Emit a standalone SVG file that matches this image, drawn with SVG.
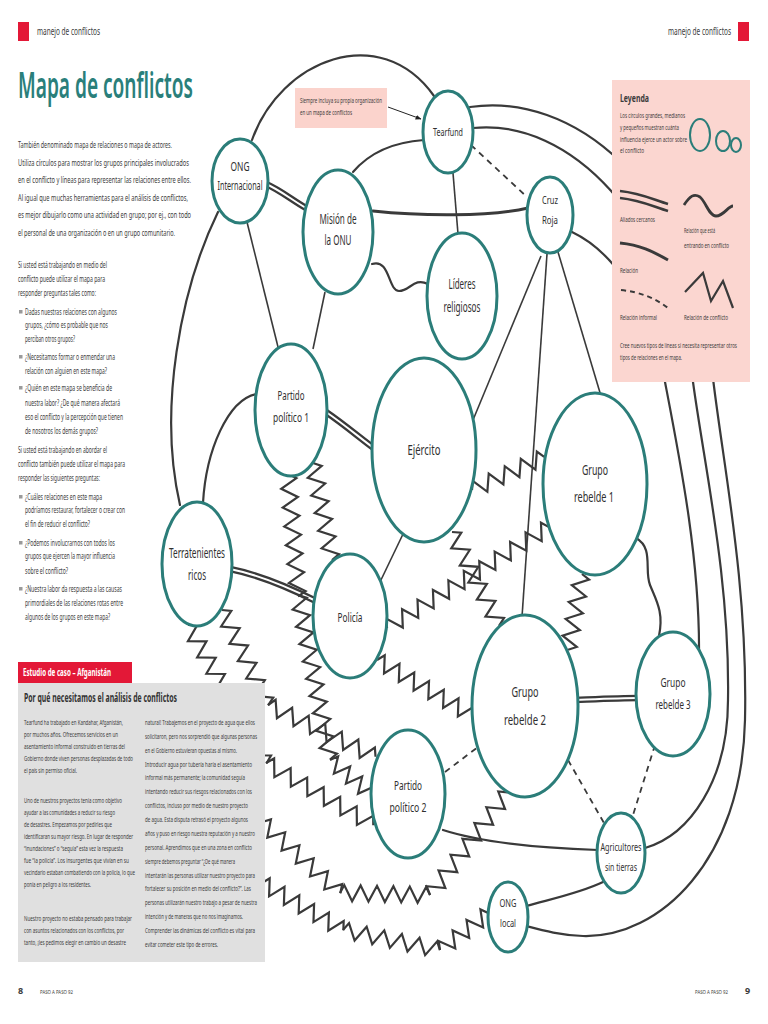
<svg xmlns="http://www.w3.org/2000/svg" width="768" height="1024" viewBox="0 0 768 1024">
<style>
text{font-family:"Noto Sans",Lato,"Liberation Sans",sans-serif;font-stretch:condensed;fill:#3b3b3b}
.nd{fill:#fff;stroke:#2b7d79;stroke-width:3}
.lb{text-anchor:middle;fill:#2f2f2f}
.ln{fill:none;stroke:#3a3a3a;stroke-width:2.2;stroke-linecap:round}
.th{fill:none;stroke:#3a3a3a;stroke-width:1.6}
.dsh{fill:none;stroke:#3a3a3a;stroke-width:1.8;stroke-dasharray:6 5}
.db{fill:none;stroke:#3a3a3a;stroke-width:6.5}
.dw{fill:none;stroke:#fff;stroke-width:2}
.bt{font-size:8.3px}
.it{font-size:9.2px}
.cs{font-size:7.6px}
.lg{font-size:7px}
.bl{fill:#9a9a9a}
</style>
<defs>
<marker id="ah" viewBox="0 0 10 10" refX="9" refY="5" markerWidth="6" markerHeight="6" orient="auto"><path d="M0,1 L10,5 L0,9z" fill="#222"/></marker>
<path id="z3" fill="none" stroke="#3a3a3a" stroke-width="2.2" vector-effect="non-scaling-stroke" d="M0,0 l4.5,-8 l9,16 l9,-16 l9,16 l9,-16 l9,16 l9,-16 l4.5,8"/>
<path id="z4" fill="none" stroke="#3a3a3a" stroke-width="2.2" vector-effect="non-scaling-stroke" d="M0,0 l4.5,-8 l9,16 l9,-16 l9,16 l9,-16 l9,16 l9,-16 l9,16 l9,-16 l4.5,8"/>
<path id="z5" fill="none" stroke="#3a3a3a" stroke-width="2.2" vector-effect="non-scaling-stroke" d="M0,0 l4.5,-8 l9,16 l9,-16 l9,16 l9,-16 l9,16 l9,-16 l9,16 l9,-16 l9,16 l9,-16 l4.5,8"/>
<path id="z6" fill="none" stroke="#3a3a3a" stroke-width="2.2" vector-effect="non-scaling-stroke" d="M0,0 l4.5,-8 l9,16 l9,-16 l9,16 l9,-16 l9,16 l9,-16 l9,16 l9,-16 l9,16 l9,-16 l9,16 l9,-16 l4.5,8"/>
<path id="z8" fill="none" stroke="#3a3a3a" stroke-width="2.2" vector-effect="non-scaling-stroke" d="M0,0 l4.5,-8 l9,16 l9,-16 l9,16 l9,-16 l9,16 l9,-16 l9,16 l9,-16 l9,16 l9,-16 l9,16 l9,-16 l9,16 l9,-16 l9,16 l9,-16 l4.5,8"/>
<path id="z9" fill="none" stroke="#3a3a3a" stroke-width="2.2" vector-effect="non-scaling-stroke" d="M0,0 l4.5,-8 l9,16 l9,-16 l9,16 l9,-16 l9,16 l9,-16 l9,16 l9,-16 l9,16 l9,-16 l9,16 l9,-16 l9,16 l9,-16 l9,16 l9,-16 l9,16 l9,-16 l4.5,8"/>
<path id="z10" fill="none" stroke="#3a3a3a" stroke-width="2.2" vector-effect="non-scaling-stroke" d="M0,0 l4.5,-8 l9,16 l9,-16 l9,16 l9,-16 l9,16 l9,-16 l9,16 l9,-16 l9,16 l9,-16 l9,16 l9,-16 l9,16 l9,-16 l9,16 l9,-16 l9,16 l9,-16 l9,16 l9,-16 l4.5,8"/>
</defs>
<rect width="768" height="1024" fill="#fff"/>

<!-- header -->
<rect x="18" y="22" width="11" height="19" fill="#e31837"/>
<text x="37" y="35" font-size="10" textLength="63" lengthAdjust="spacingAndGlyphs">manejo de conflictos</text>
<rect x="738" y="22" width="11" height="19" fill="#e31837"/>
<text x="668" y="35" font-size="10" textLength="63" lengthAdjust="spacingAndGlyphs">manejo de conflictos</text>

<text x="18" y="98" font-size="36" font-weight="600" textLength="175" lengthAdjust="spacingAndGlyphs" style="fill:#2a7f7b">Mapa de conflictos</text>

<g class="it">
<text x="18" y="148" textLength="154" lengthAdjust="spacingAndGlyphs">También denominado mapa de relaciones o mapa de actores.</text>
<text x="18" y="166" textLength="171" lengthAdjust="spacingAndGlyphs">Utiliza círculos para mostrar los grupos principales involucrados</text>
<text x="18" y="183" textLength="173" lengthAdjust="spacingAndGlyphs">en el conflicto y líneas para representar las relaciones entre ellos.</text>
<text x="18" y="201" textLength="170" lengthAdjust="spacingAndGlyphs">Al igual que muchas herramientas para el análisis de conflictos,</text>
<text x="18" y="218" textLength="173" lengthAdjust="spacingAndGlyphs">es mejor dibujarlo como una actividad en grupo; por ej., con todo</text>
<text x="18" y="236" textLength="157" lengthAdjust="spacingAndGlyphs">el personal de una organización o en un grupo comunitario.</text>
</g>

<g class="bt">
<text x="18" y="268" textLength="89" lengthAdjust="spacingAndGlyphs">Si usted está trabajando en medio del</text>
<text x="18" y="282" textLength="87" lengthAdjust="spacingAndGlyphs">conflicto puede utilizar el mapa para</text>
<text x="18" y="296" textLength="78" lengthAdjust="spacingAndGlyphs">responder preguntas tales como:</text>
<text x="25" y="315" textLength="92" lengthAdjust="spacingAndGlyphs">Dadas nuestras relaciones con algunos</text>
<text x="25" y="328" textLength="83" lengthAdjust="spacingAndGlyphs">grupos, ¿cómo es probable que nos</text>
<text x="25" y="342" textLength="50" lengthAdjust="spacingAndGlyphs">perciban otros grupos?</text>
<text x="25" y="360" textLength="90" lengthAdjust="spacingAndGlyphs">¿Necesitamos formar o enmendar una</text>
<text x="25" y="374" textLength="82" lengthAdjust="spacingAndGlyphs">relación con alguien en este mapa?</text>
<text x="25" y="391" textLength="87" lengthAdjust="spacingAndGlyphs">¿Quién en este mapa se beneficia de</text>
<text x="25" y="406" textLength="95" lengthAdjust="spacingAndGlyphs">nuestra labor? ¿De qué manera afectará</text>
<text x="25" y="420" textLength="98" lengthAdjust="spacingAndGlyphs">eso el conflicto y la percepción que tienen</text>
<text x="25" y="434" textLength="73" lengthAdjust="spacingAndGlyphs">de nosotros los demás grupos?</text>
<text x="18" y="453" textLength="89" lengthAdjust="spacingAndGlyphs">Si usted está trabajando en abordar el</text>
<text x="18" y="467" textLength="107" lengthAdjust="spacingAndGlyphs">conflicto también puede utilizar el mapa para</text>
<text x="18" y="481" textLength="82" lengthAdjust="spacingAndGlyphs">responder las siguientes preguntas:</text>
<text x="25" y="500" textLength="77" lengthAdjust="spacingAndGlyphs">¿Cuáles relaciones en este mapa</text>
<text x="25" y="513" textLength="100" lengthAdjust="spacingAndGlyphs">podríamos restaurar, fortalecer o crear con</text>
<text x="25" y="527" textLength="65" lengthAdjust="spacingAndGlyphs">el fin de reducir el conflicto?</text>
<text x="25" y="546" textLength="90" lengthAdjust="spacingAndGlyphs">¿Podemos involucrarnos con todos los</text>
<text x="25" y="559" textLength="90" lengthAdjust="spacingAndGlyphs">grupos que ejercen la mayor influencia</text>
<text x="25" y="574" textLength="43" lengthAdjust="spacingAndGlyphs">sobre el conflicto?</text>
<text x="25" y="592" textLength="97" lengthAdjust="spacingAndGlyphs">¿Nuestra labor da respuesta a las causas</text>
<text x="25" y="606" textLength="98" lengthAdjust="spacingAndGlyphs">primordiales de las relaciones rotas entre</text>
<text x="25" y="620" textLength="85" lengthAdjust="spacingAndGlyphs">algunos de los grupos en este mapa?</text>
</g>
<rect class="bl" x="19" y="310" width="3.5" height="3.5"/>
<rect class="bl" x="19" y="355" width="3.5" height="3.5"/>
<rect class="bl" x="19" y="386" width="3.5" height="3.5"/>
<rect class="bl" x="19" y="495" width="3.5" height="3.5"/>
<rect class="bl" x="19" y="541" width="3.5" height="3.5"/>
<rect class="bl" x="19" y="587" width="3.5" height="3.5"/>

<!-- connectors -->
<g id="connectors">
<path class="ln" d="M252,140 C280,60 380,20 434,96"/>
<path class="ln" d="M218,212 C180,290 158,410 180,505"/>
<path class="th" d="M247,222 L278,347"/>
<path class="db" d="M266,184 C280,190 292,200 306,208"/><path class="dw" d="M266,184 C280,190 292,200 306,208"/>
<path class="ln" d="M353,172 C370,152 395,142 424,140"/>
<path class="ln" style="stroke-width:3" d="M373,211 C420,216 490,217 528,208"/>
<path class="dsh" d="M471,145 L527,197"/>
<path class="th" d="M453,173 L458,234"/>
<path class="ln" d="M372,264 C390,258 388,291 399,291 C410,291 414,277 428,284"/>
<path class="th" d="M325,292 L313,349"/>
<path class="ln" d="M470,107 C570,92 690,180 712,370 C722,460 748,580 745,720 C742,860 660,938 583,936 C560,935 545,931 526,926"/>
<path class="ln" d="M473,128 C570,118 670,220 693,382 C705,470 730,580 728,700 C728,780 690,835 645,848"/>
<path class="ln" d="M572,232 C610,250 650,300 665,382 C680,460 700,560 699,655"/>
<path class="th" d="M541,256 L473,420"/>
<path class="th" d="M547,254 L522,617"/>
<path class="th" d="M558,252 L601,396"/>
<path class="db" d="M326,412 C345,425 360,438 375,449"/><path class="dw" d="M326,412 C345,425 360,438 375,449"/>
<path class="ln" d="M256,394 C228,400 206,450 203,503"/>
<path class="db" d="M230,569 C260,575 290,588 316,601"/><path class="dw" d="M230,569 C260,575 290,588 316,601"/>
<path class="th" d="M404,532 L380,582"/>
<path class="db" d="M576,700 C600,699 620,698 639,698"/><path class="dw" d="M576,700 C600,699 620,698 639,698"/>
<path class="dsh" d="M445,772 L478,747"/>
<path class="dsh" d="M568,760 L604,823"/>
<path class="dsh" d="M655,745 L633,815"/>
<path class="ln" d="M443,830 C480,842 540,848 598,850"/>
<path class="ln" d="M526,906 C555,898 580,893 603,882"/>
<path class="ln" d="M636,538 C654,548 644,570 650,585 C656,600 664,612 659,636"/>
<use href="#z5" transform="translate(313,463) rotate(78.9)"/>
<use href="#z6" transform="translate(288,474) rotate(85.3) scale(1.05,1)"/>
<use href="#z9" transform="translate(298,595) rotate(79) scale(0.98,1)"/>
<use href="#z3" transform="translate(330,760) rotate(39.8) scale(0.87,1)"/>
<use href="#z5" transform="translate(222,610) rotate(64.2) scale(1.07,1)"/>
<use href="#z6" transform="translate(268,705) rotate(25.7) scale(1.02,1)"/>
<use href="#z8" transform="translate(188,625) rotate(60.5) scale(1.04,1)"/>
<use href="#z6" transform="translate(266,763) rotate(30.1) scale(1.06,1)"/>
<use href="#z5" transform="translate(262,822) rotate(42.3) scale(1.07,1)"/>
<use href="#z5" transform="translate(340,893) rotate(1.3) scale(0.91,1)"/>
<use href="#z6" transform="translate(430,895) rotate(-52.9) scale(1.1,1)"/>
<use href="#z5" transform="translate(262,883) rotate(30.1) scale(0.95,1)"/>
<use href="#z5" transform="translate(343,930) rotate(11.7)"/>
<use href="#z3" transform="translate(440,950) rotate(-37.1) scale(0.97,1)"/>
<use href="#z4" transform="translate(472,490) rotate(-24.6) scale(0.98,1)"/>
<use href="#z10" transform="translate(387,628) rotate(-31.9) scale(1.01,1)"/>
<use href="#z5" transform="translate(452,532) rotate(63.4) scale(1.06,1)"/>
<use href="#z6" transform="translate(377,660) rotate(30.3) scale(0.95,1)"/>
<use href="#z4" transform="translate(582,574) rotate(100.4) scale(0.95,1)"/>
</g>

<!-- annotation -->
<rect x="295" y="88" width="92" height="40" fill="#fbd3cc"/>
<text x="300" y="103" font-size="6.5" textLength="82" lengthAdjust="spacingAndGlyphs">Siempre incluya su propia organización</text>
<text x="300" y="115" font-size="6.5" textLength="52" lengthAdjust="spacingAndGlyphs">en un mapa de conflictos</text>
<path d="M388,107 L421,119" stroke="#222" stroke-width="1" fill="none" marker-end="url(#ah)"/>

<!-- legend -->
<rect x="612" y="80" width="138" height="302" fill="#fbd6d0"/>
<text x="620" y="102" font-size="11" font-weight="bold" textLength="29" lengthAdjust="spacingAndGlyphs">Leyenda</text>
<g class="lg">
<text x="620" y="118" textLength="65" lengthAdjust="spacingAndGlyphs">Los círculos grandes, medianos</text>
<text x="620" y="130" textLength="59" lengthAdjust="spacingAndGlyphs">y pequeños muestran cuánta</text>
<text x="620" y="142" textLength="67" lengthAdjust="spacingAndGlyphs">influencia ejerce un actor sobre</text>
<text x="620" y="153" textLength="24" lengthAdjust="spacingAndGlyphs">el conflicto</text>
<text x="620" y="222" textLength="35" lengthAdjust="spacingAndGlyphs">Aliados cercanos</text>
<text x="684" y="233" textLength="31" lengthAdjust="spacingAndGlyphs">Relación que está</text>
<text x="684" y="248" textLength="45" lengthAdjust="spacingAndGlyphs">entrando en conflicto</text>
<text x="620" y="273" textLength="18" lengthAdjust="spacingAndGlyphs">Relación</text>
<text x="620" y="320" textLength="37" lengthAdjust="spacingAndGlyphs">Relación informal</text>
<text x="684" y="320" textLength="44" lengthAdjust="spacingAndGlyphs">Relación de conflicto</text>
<text x="620" y="348" font-size="6.2" textLength="117" lengthAdjust="spacingAndGlyphs">Cree nuevos tipos de líneas si necesita representar otros</text>
<text x="620" y="360" textLength="62" lengthAdjust="spacingAndGlyphs">tipos de relaciones en el mapa.</text>
</g>
<ellipse cx="700" cy="135" rx="10" ry="16" fill="none" stroke="#2b7d79" stroke-width="2"/>
<ellipse cx="723" cy="141" rx="7" ry="10" fill="none" stroke="#2b7d79" stroke-width="2"/>
<ellipse cx="736" cy="145" rx="5" ry="7" fill="none" stroke="#2b7d79" stroke-width="2"/>
<path d="M620,191 C640,193 652,199 668,204" fill="none" stroke="#3a3a3a" stroke-width="2.6"/>
<path d="M620,198 C640,200 652,206 668,211" fill="none" stroke="#3a3a3a" stroke-width="2.6"/>
<path d="M684,205 C690,196 694,193 700,197 C706,202 709,216 716,216 C724,216 728,206 733,206" fill="none" stroke="#3a3a3a" stroke-width="2.8"/>
<path d="M620,243 C640,245 652,251 668,260" fill="none" stroke="#3a3a3a" stroke-width="3"/>
<path d="M621,290 C640,292 655,298 668,308" fill="none" stroke="#3a3a3a" stroke-width="2" stroke-dasharray="5 4"/>
<path d="M685,292 L703,273 L711,301 L723,281 L733,308" fill="none" stroke="#3a3a3a" stroke-width="2.2"/>

<!-- nodes -->
<g id="tearfund"><ellipse class="nd" cx="448" cy="132" rx="25" ry="41"/><text class="lb" x="448" y="136" font-size="11" textLength="30" lengthAdjust="spacingAndGlyphs">Tearfund</text></g>
<g id="cruz-roja"><ellipse class="nd" cx="550" cy="215" rx="23" ry="38"/><text class="lb" x="550" y="204" font-size="11" textLength="16" lengthAdjust="spacingAndGlyphs">Cruz</text><text class="lb" x="550" y="224" font-size="11" textLength="16" lengthAdjust="spacingAndGlyphs">Roja</text></g>
<g id="ong-internacional"><ellipse class="nd" cx="240" cy="181" rx="28" ry="42"/><text class="lb" x="240" y="171" font-size="12" textLength="19" lengthAdjust="spacingAndGlyphs">ONG</text><text class="lb" x="240" y="190" font-size="12" textLength="45" lengthAdjust="spacingAndGlyphs">Internacional</text></g>
<g id="mision-onu"><ellipse class="nd" cx="338" cy="232" rx="35" ry="62"/><text class="lb" x="338" y="224" font-size="14" textLength="37" lengthAdjust="spacingAndGlyphs">Misión de</text><text class="lb" x="338" y="245" font-size="14" textLength="27" lengthAdjust="spacingAndGlyphs">la ONU</text></g>
<g id="lideres-religiosos"><ellipse class="nd" cx="462" cy="296" rx="35" ry="63"/><text class="lb" x="462" y="289" font-size="14" textLength="27" lengthAdjust="spacingAndGlyphs">Líderes</text><text class="lb" x="462" y="312" font-size="14" textLength="37" lengthAdjust="spacingAndGlyphs">religiosos</text></g>
<g id="partido-1"><ellipse class="nd" cx="291" cy="410" rx="36" ry="66"/><text class="lb" x="291" y="400" font-size="13" textLength="27" lengthAdjust="spacingAndGlyphs">Partido</text><text class="lb" x="291" y="422" font-size="13" textLength="36" lengthAdjust="spacingAndGlyphs">político 1</text></g>
<g id="ejercito"><ellipse class="nd" cx="424" cy="450" rx="52" ry="92"/><text class="lb" x="424" y="455" font-size="14" textLength="33" lengthAdjust="spacingAndGlyphs">Ejército</text></g>
<g id="grupo-rebelde-1"><ellipse class="nd" cx="595" cy="484" rx="52" ry="91"/><text class="lb" x="595" y="475" font-size="14" textLength="26" lengthAdjust="spacingAndGlyphs">Grupo</text><text class="lb" x="594" y="502" font-size="14" textLength="40" lengthAdjust="spacingAndGlyphs">rebelde 1</text></g>
<g id="terratenientes"><ellipse class="nd" cx="197" cy="564" rx="35" ry="62"/><text class="lb" x="197" y="558" font-size="13.5" textLength="56" lengthAdjust="spacingAndGlyphs">Terratenientes</text><text class="lb" x="197" y="580" font-size="13.5" textLength="18" lengthAdjust="spacingAndGlyphs">ricos</text></g>
<g id="policia"><ellipse class="nd" cx="350" cy="616" rx="37" ry="62"/><text class="lb" x="350" y="622" font-size="13" textLength="25" lengthAdjust="spacingAndGlyphs">Policía</text></g>
<g id="grupo-rebelde-2"><ellipse class="nd" cx="525" cy="706" rx="53" ry="91"/><text class="lb" x="525" y="697" font-size="14" textLength="27" lengthAdjust="spacingAndGlyphs">Grupo</text><text class="lb" x="525" y="725" font-size="14" textLength="42" lengthAdjust="spacingAndGlyphs">rebelde 2</text></g>
<g id="grupo-rebelde-3"><ellipse class="nd" cx="673" cy="694" rx="37" ry="62"/><text class="lb" x="673" y="687" font-size="13" textLength="25" lengthAdjust="spacingAndGlyphs">Grupo</text><text class="lb" x="673" y="709" font-size="13" textLength="35" lengthAdjust="spacingAndGlyphs">rebelde 3</text></g>
<g id="partido-2"><ellipse class="nd" cx="408" cy="794" rx="37" ry="64"/><text class="lb" x="408" y="790" font-size="13" textLength="28" lengthAdjust="spacingAndGlyphs">Partido</text><text class="lb" x="408" y="812" font-size="13" textLength="37" lengthAdjust="spacingAndGlyphs">político 2</text></g>
<g id="agricultores"><ellipse class="nd" cx="621" cy="853" rx="24" ry="40"/><text class="lb" x="621" y="851" font-size="11" textLength="41" lengthAdjust="spacingAndGlyphs">Agricultores</text><text class="lb" x="621" y="871" font-size="11" textLength="32" lengthAdjust="spacingAndGlyphs">sin tierras</text></g>
<g id="ong-local"><ellipse class="nd" cx="508" cy="917" rx="20" ry="35"/><text class="lb" x="508" y="907" font-size="11" textLength="17" lengthAdjust="spacingAndGlyphs">ONG</text><text class="lb" x="508" y="927" font-size="11" textLength="16" lengthAdjust="spacingAndGlyphs">local</text></g>

<!-- case study -->
<rect x="18" y="683" width="247" height="279" fill="#e0e0e0"/>
<rect x="18" y="662" width="114" height="21" fill="#e31837"/>
<text x="23" y="676" font-size="10" font-weight="bold" textLength="88" lengthAdjust="spacingAndGlyphs" style="fill:#fff">Estudio de caso – Afganistán</text>
<text x="24" y="702" font-size="12" font-weight="bold" textLength="153" lengthAdjust="spacingAndGlyphs" style="fill:#333">Por qué necesitamos el análisis de conflictos</text>
<g class="cs">
<text x="24" y="725" textLength="99" lengthAdjust="spacingAndGlyphs">Tearfund ha trabajado en Kandahar, Afganistán,</text>
<text x="24" y="737" textLength="94" lengthAdjust="spacingAndGlyphs">por muchos años. Ofrecemos servicios en un</text>
<text x="24" y="749" textLength="101" lengthAdjust="spacingAndGlyphs">asentamiento informal construido en tierras del</text>
<text x="24" y="761" textLength="109" lengthAdjust="spacingAndGlyphs">Gobierno donde viven personas desplazadas de todo</text>
<text x="24" y="773" textLength="53" lengthAdjust="spacingAndGlyphs">el país sin permiso oficial.</text>
<text x="24" y="803" textLength="98" lengthAdjust="spacingAndGlyphs">Uno de nuestros proyectos tenía como objetivo</text>
<text x="24" y="815" textLength="91" lengthAdjust="spacingAndGlyphs">ayudar a las comunidades a reducir su riesgo</text>
<text x="24" y="827" textLength="88" lengthAdjust="spacingAndGlyphs">de desastres. Empezamos por pedirles que</text>
<text x="24" y="839" textLength="109" lengthAdjust="spacingAndGlyphs">identificaran su mayor riesgo. En lugar de responder</text>
<text x="24" y="851" textLength="99" lengthAdjust="spacingAndGlyphs">“inundaciones” o “sequía” esta vez la respuesta</text>
<text x="24" y="863" textLength="105" lengthAdjust="spacingAndGlyphs">fue “la policía”. Los insurgentes que vivían en su</text>
<text x="24" y="875" textLength="111" lengthAdjust="spacingAndGlyphs">vecindario estaban combatiendo con la policía, lo que</text>
<text x="24" y="887" textLength="67" lengthAdjust="spacingAndGlyphs">ponía en peligro a los residentes.</text>
<text x="24" y="921" textLength="108" lengthAdjust="spacingAndGlyphs">Nuestro proyecto no estaba pensado para trabajar</text>
<text x="24" y="933" textLength="100" lengthAdjust="spacingAndGlyphs">con asuntos relacionados con los conflictos, por</text>
<text x="24" y="945" textLength="102" lengthAdjust="spacingAndGlyphs">tanto, ¡les pedimos elegir en cambio un desastre</text>
<text x="145" y="725" textLength="110" lengthAdjust="spacingAndGlyphs">natural! Trabajemos en el proyecto de agua que ellos</text>
<text x="145" y="739" textLength="112" lengthAdjust="spacingAndGlyphs">solicitaron, pero nos sorprendió que algunas personas</text>
<text x="145" y="753" textLength="92" lengthAdjust="spacingAndGlyphs">en el Gobierno estuvieran opuestas al mismo.</text>
<text x="145" y="767" textLength="107" lengthAdjust="spacingAndGlyphs">Introducir agua por tubería haría el asentamiento</text>
<text x="145" y="780" textLength="100" lengthAdjust="spacingAndGlyphs">informal más permanente; la comunidad seguía</text>
<text x="145" y="794" textLength="107" lengthAdjust="spacingAndGlyphs">intentando reducir sus riesgos relacionados con los</text>
<text x="145" y="808" textLength="103" lengthAdjust="spacingAndGlyphs">conflictos, incluso por medio de nuestro proyecto</text>
<text x="145" y="822" textLength="103" lengthAdjust="spacingAndGlyphs">de agua. Esta disputa retrasó el proyecto algunos</text>
<text x="145" y="836" textLength="110" lengthAdjust="spacingAndGlyphs">años y puso en riesgo nuestra reputación y a nuestro</text>
<text x="145" y="850" textLength="107" lengthAdjust="spacingAndGlyphs">personal. Aprendimos que en una zona en conflicto</text>
<text x="145" y="864" textLength="90" lengthAdjust="spacingAndGlyphs">siempre debemos preguntar “¿De qué manera</text>
<text x="145" y="878" textLength="110" lengthAdjust="spacingAndGlyphs">intentarán las personas utilizar nuestro proyecto para</text>
<text x="145" y="891" textLength="106" lengthAdjust="spacingAndGlyphs">fortalecer su posición en medio del conflicto?”. Las</text>
<text x="145" y="905" textLength="112" lengthAdjust="spacingAndGlyphs">personas utilizarán nuestro trabajo a pesar de nuestra</text>
<text x="145" y="919" textLength="98" lengthAdjust="spacingAndGlyphs">intención y de maneras que no nos imaginamos.</text>
<text x="145" y="933" textLength="110" lengthAdjust="spacingAndGlyphs">Comprender las dinámicas del conflicto es vital para</text>
<text x="145" y="947" textLength="73" lengthAdjust="spacingAndGlyphs">evitar cometer este tipo de errores.</text>
</g>

<!-- footer -->
<text x="18" y="994" font-size="9" font-weight="bold">8</text>
<text x="40" y="994" font-size="6" textLength="33" lengthAdjust="spacingAndGlyphs">PASO A PASO 92</text>
<text x="695" y="994" font-size="6" textLength="33" lengthAdjust="spacingAndGlyphs">PASO A PASO 92</text>
<text x="745" y="994" font-size="9" font-weight="bold">9</text>
</svg>
